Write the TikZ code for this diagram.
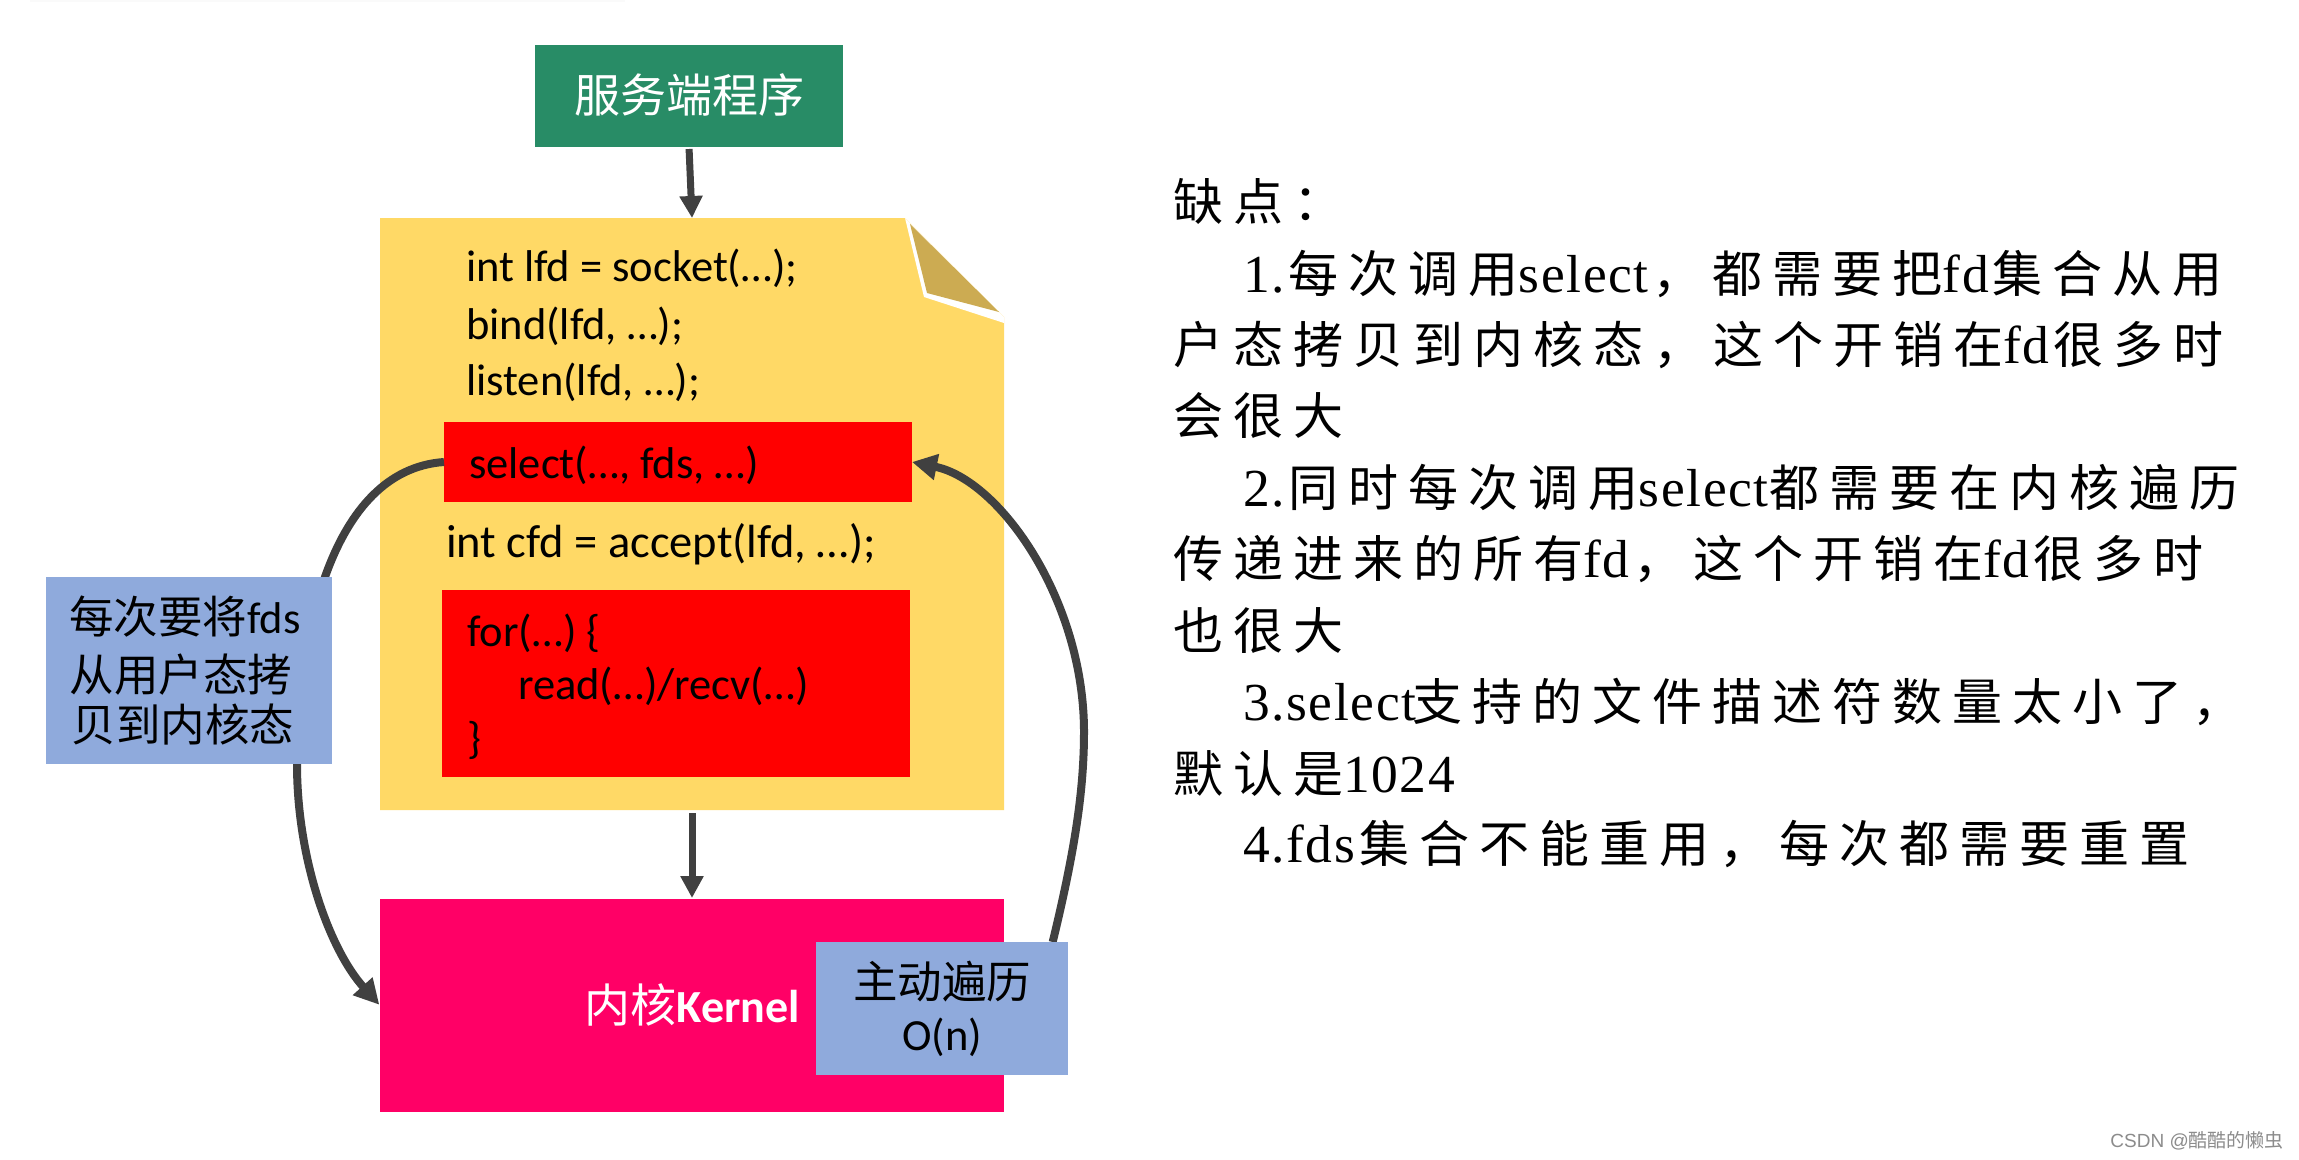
\documentclass[tikz,border=0pt]{standalone}
\usepackage{fontspec}
\usetikzlibrary{arrows.meta}
\setmainfont{Carlito}
\newfontfamily\zhfont{Noto Sans CJK SC}
\newfontfamily\zhspfont[LetterSpace=20]{Noto Sans CJK SC}
\newfontfamily\latspfont[LetterSpace=3,Scale=1.07]{Liberation Serif}
\newcommand\zhn[1]{{\zhfont\mdseries #1}}
\newcommand\zhs[1]{{\zhspfont #1}}
\newcommand\lats[1]{{\latspfont #1}\kern 4pt\relax}
\definecolor{cgreen}{HTML}{288C66}
\definecolor{cyellow}{HTML}{FFD966}
\definecolor{cfold}{HTML}{CCAB52}
\definecolor{cred}{HTML}{FF0000}
\definecolor{ckernel}{HTML}{FF0066}
\definecolor{cblue}{HTML}{8FAADC}
\definecolor{clink}{HTML}{404040}
\pgfdeclarelayer{base}
\pgfdeclarelayer{links}
\pgfsetlayers{base,links,main}
\tikzset{
  box/.style={anchor=north west,inner sep=0pt,outer sep=0pt,draw=none},
  link/.style={draw=clink,line width=8pt,-{Triangle[width=25pt,length=25pt]}},
  code/.style={anchor=base west,inner sep=0pt,text=black,font=\fontsize{44.5}{50}\selectfont},
  label/.style={anchor=base,inner sep=0pt,text=black,font=\fontsize{44.5}{50}\selectfont},
  note/.style={anchor=base west,inner sep=0pt,text=black,font=\fontsize{50}{60}\selectfont},
}
\begin{document}
\begin{tikzpicture}[x=1pt,y=-1pt]
\useasboundingbox (0,0) rectangle (2299,1159);
\begin{pgfonlayer}{base}
  \fill[white] (0,0) rectangle (2299,1159);
  \fill[black!2] (30,0) rectangle (625,2);
  \node[box,fill=cgreen,minimum width=308pt,minimum height=102pt] (server) at (535,45) {};
  \node[box,minimum width=624pt,minimum height=592pt] (doc) at (380,218) {};
  \fill[cyellow] (doc.north west) -- (905,218) -- (1004,317) -- (doc.south east) -- (doc.south west) -- cycle;
  \fill[white] (905,218) -- (1004,317) -- (1004,323) -- (924,297) -- cycle;
  \fill[cfold] (910,224) -- (927,293) -- (999,312) -- cycle;
  \node[box,fill=cred,minimum width=468pt,minimum height=80pt] (sel) at (444,422) {};
  \node[box,fill=cred,minimum width=468pt,minimum height=187pt] (loop) at (442,590) {};
  \node[box,fill=ckernel,minimum width=624pt,minimum height=213pt] (kernel) at (380,899) {};
\end{pgfonlayer}
\node[box,fill=cblue,minimum width=286pt,minimum height=187pt] (lblue) at (46,577) {};
\node[box,fill=cblue,minimum width=252pt,minimum height=133pt] (rblue) at (816,942) {};
\begin{pgfonlayer}{links}
  \draw[link,line width=7pt,-{Triangle[width=22pt,length=22pt]},shorten <=2pt] (server.south) -- (doc.north);
  \draw[link,line width=7pt,-{Triangle[width=22pt,length=22pt]},shorten <=3pt,shorten >=1pt] (doc.south) -- (kernel.north);
  \draw[link,shorten >=1pt] (sel.west) .. controls (330,470) and (297,640) .. (297,764) .. controls (297,860) and (330,950) .. (kernel.west);
  \draw[link] (rblue.31) .. controls (1075,850) and (1084,790) .. (1084,732) .. controls (1084,600) and (1000,480) .. (sel.east);
\end{pgfonlayer}
\node[anchor=base,inner sep=0pt,text=white,font=\fontsize{46}{50}\selectfont] (servert) at (689,112) {\zhn{服务端程序}};
\node[code] (c1) at (466,281) {int lfd = socket(…);};
\node[code] (c2) at (466,339) {bind(lfd, …);};
\node[code] (c3) at (466,395) {listen(lfd, …);};
\node[code] (c4) at (469,478) {select(…, fds, …)};
\node[code,font=\fontsize{46.5}{50}\selectfont] (c5) at (446,557) {int cfd = accept(lfd, …);};
\node[code] (c6) at (467,646) {for(…) \{};
\node[code] (c7) at (518,699) {read(…)/recv(…)};
\node[code] (c8) at (467,753) {\}};
\node[label] (l1) at (185,633) {\zhn{每次要将}fds};
\node[label] (l2) at (181,691) {\zhn{从用户态拷}};
\node[label] (l3) at (183,741) {\zhn{贝到内核态}};
\node[label] (r1) at (942,998) {\zhn{主动遍历}};
\node[label] (r2) at (942,1050) {O(n)};
\node[anchor=base east,inner sep=0pt,text=white,font=\fontsize{46}{50}\bfseries\selectfont] (kt) at (800,1022) {\zhn{内核}Kernel};
\node[note] (t0) at (1173,220) {\zhs{缺点：}};
\node[note] (t1) at (1243,292) {\lats{1.}\zhs{每次调用}\lats{select}\zhs{，都需要把}\lats{fd}\zhs{集合从用}};
\node[note] (t2) at (1173,363) {\zhs{户态拷贝到内核态，这个开销在}\lats{fd}\zhs{很多时}};
\node[note] (t3) at (1173,434) {\zhs{会很大}};
\node[note] (t4) at (1243,506) {\lats{2.}\zhs{同时每次调用}\lats{select}\kern-3pt\zhs{都需要在内核遍历}};
\node[note] (t5) at (1173,577) {\zhs{传递进来的所有}\lats{fd}\zhs{，这个开销在}\lats{fd}\zhs{很多时}};
\node[note] (t6) at (1173,649) {\zhs{也很大}};
\node[note] (t7) at (1243,720) {\lats{3.select}\kern-8pt\zhs{支持的文件描述符数量太小了，}};
\node[note] (t8) at (1173,792) {\zhs{默认是}\lats{1024}};
\node[note] (t9) at (1243,862) {\lats{4.fds}\zhs{集合不能重用，每次都需要重置}};
\node[anchor=base east,inner sep=0pt,text=black!45,font=\fontsize{19}{20}\selectfont] (mark) at (2284,1147) {\fontspec{Liberation Sans}CSDN @\zhn{酷酷的懒虫}};
\end{tikzpicture}
\end{document}
